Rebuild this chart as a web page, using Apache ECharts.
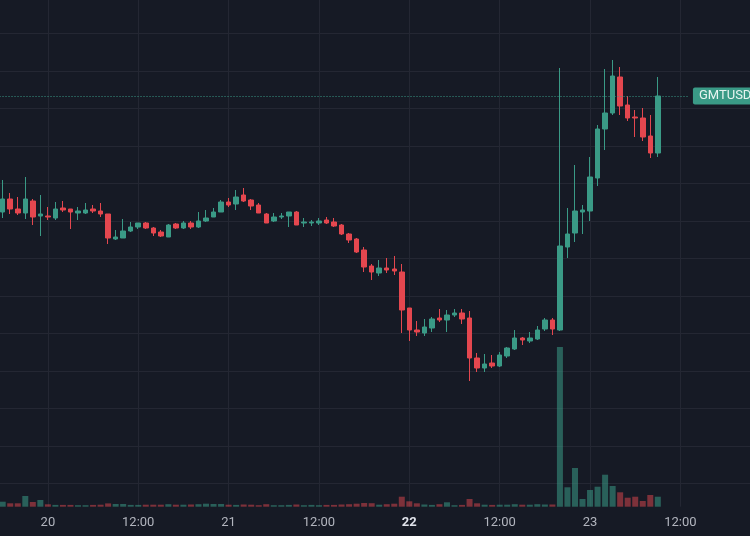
<!DOCTYPE html>
<html><head><meta charset="utf-8">
<script src="https://cdn.jsdelivr.net/npm/echarts@6/dist/echarts.min.js"></script>
<style>html,body{margin:0;padding:0;background:#161a25;}#c{width:750px;height:536px;}</style>
</head><body><div id="c"></div>
<script>
const symbol = 'GMTUSD';
// hour offsets from day 19, 00:00 (1-hour candles, 19th 18:00 .. 23rd 09:00)
const hours = [18,19,20,21,22,23,24,25,26,27,28,29,30,31,32,33,34,35,36,37,38,39,40,41,42,43,44,45,46,47,
  48,49,50,51,52,53,54,55,56,57,58,59,60,61,62,63,64,65,66,67,68,69,70,71,72,73,74,75,76,77,
  78,79,80,81,82,83,84,85,86,87,88,89,90,91,92,93,94,95,96,97,98,99,100,101,102,103,104,105];
const opens = [1.284,1.297,1.287,1.283,1.295,1.280,1.280,1.278,1.288,1.287,
  1.283,1.283,1.287,1.285,1.282,1.257,1.258,1.265,1.269,1.273,
  1.268,1.264,1.259,1.272,1.268,1.273,1.269,1.275,1.279,1.284,
  1.294,1.292,1.301,1.296,1.291,1.282,1.275,1.279,1.280,1.284,
  1.273,1.273,1.273,1.276,1.274,1.271,1.262,1.257,1.246,1.230,
  1.223,1.228,1.227,1.224,1.188,1.166,1.163,1.168,1.178,1.176,
  1.181,1.183,1.178,1.138,1.128,1.133,1.130,1.140,1.147,1.158,
  1.155,1.157,1.167,1.176,1.166,1.249,1.263,1.284,1.285,1.318,
  1.367,1.383,1.419,1.391,1.379,1.378,1.360,1.343];
const closes = [1.297,1.287,1.283,1.297,1.279,1.282,1.279,1.287,1.286,1.284,
  1.285,1.286,1.285,1.282,1.258,1.259,1.265,1.269,1.273,1.268,
  1.263,1.260,1.271,1.268,1.273,1.269,1.275,1.278,1.284,1.294,
  1.291,1.299,1.295,1.290,1.283,1.273,1.279,1.280,1.284,1.271,
  1.274,1.274,1.275,1.273,1.270,1.262,1.256,1.244,1.229,1.224,
  1.228,1.226,1.225,1.186,1.166,1.164,1.169,1.177,1.176,1.181,
  1.183,1.177,1.138,1.128,1.132,1.130,1.141,1.148,1.158,1.156,
  1.158,1.166,1.176,1.167,1.250,1.262,1.285,1.286,1.319,1.367,
  1.383,1.420,1.390,1.378,1.378,1.359,1.343,1.400];
const lows = [1.278,1.282,1.281,1.277,1.271,1.260,1.276,1.276,1.284,1.267,
  1.276,1.282,1.283,1.279,1.252,1.256,1.258,1.264,1.267,1.267,
  1.260,1.259,1.259,1.267,1.267,1.267,1.268,1.274,1.279,1.284,
  1.289,1.286,1.294,1.286,1.283,1.273,1.274,1.277,1.269,1.271,
  1.269,1.270,1.271,1.272,1.269,1.261,1.253,1.243,1.224,1.216,
  1.220,1.223,1.221,1.163,1.155,1.160,1.160,1.164,1.174,1.164,
  1.179,1.172,1.115,1.124,1.124,1.128,1.129,1.138,1.146,1.151,
  1.153,1.156,1.165,1.161,1.165,1.238,1.254,1.262,1.275,1.310,
  1.346,1.381,1.381,1.375,1.359,1.355,1.338,1.339];
const highs = [1.316,1.303,1.299,1.319,1.297,1.301,1.289,1.294,1.295,1.287,
  1.289,1.293,1.291,1.293,1.282,1.266,1.277,1.274,1.273,1.274,
  1.269,1.266,1.272,1.273,1.275,1.275,1.284,1.286,1.288,1.296,
  1.298,1.306,1.308,1.297,1.293,1.283,1.283,1.283,1.284,1.285,
  1.278,1.276,1.278,1.279,1.278,1.272,1.263,1.258,1.249,1.232,
  1.236,1.238,1.240,1.232,1.188,1.175,1.177,1.179,1.187,1.186,
  1.187,1.187,1.185,1.143,1.142,1.141,1.144,1.149,1.166,1.159,
  1.164,1.170,1.178,1.178,1.428,1.288,1.331,1.291,1.339,1.371,
  1.427,1.436,1.429,1.400,1.386,1.388,1.381,1.419];
const volumes = [50,34,34,107,47,67,24,18,18,18,
  15,15,18,20,33,27,27,18,18,20,
  20,20,25,20,20,22,25,30,27,27,
  20,18,22,20,15,25,15,15,18,22,
  15,18,15,18,18,22,25,30,37,35,
  20,25,30,100,54,34,22,18,25,44,
  15,18,77,34,20,18,20,20,25,20,
  20,25,22,22,1597,194,387,77,167,200,
  320,207,144,90,100,57,117,100];
const tickHours = [24,36,48,60,72,84,96,108];
const tickLabels = ['20','12:00','21','12:00','22','12:00','23','12:00'];
const boldTicks = ['22'];

const UP = '#3a9a86', DOWN = '#e4474f';
const UPV = 'rgba(58,154,134,0.55)', DOWNV = 'rgba(228,71,79,0.5)';
const GRID = '#242733';
const FONT = 'Roboto, "Noto Sans", sans-serif';

const candleData = hours.map((h, i) => [h, opens[i], closes[i], lows[i], highs[i]]);
const volData = hours.map((h, i) => ({
  value: [h, volumes[i]],
  itemStyle: { color: closes[i] >= opens[i] ? UPV : DOWNV }
}));
const last = closes[closes.length - 1];
const tagHour = 109; // price-line tag sits at 23rd 13:00 on the time scale

const chart = echarts.init(document.getElementById('c'), null, { renderer: 'canvas' });
chart.setOption({
  backgroundColor: '#161a25',
  animation: false,
  grid: [
    { left: -42.48, right: -20.76, top: -4, bottom: 15, containLabel: false, outerBoundsMode: 'none' },
    { left: -42.48, right: -20.76, top: 0, bottom: 29.3, containLabel: false, outerBoundsMode: 'none' }
  ],
  xAxis: [
    { type: 'value', gridIndex: 0, min: 12, max: 120, interval: 12, show: false },
    { type: 'value', gridIndex: 1, min: 12, max: 120, interval: 12,
      axisLine: { show: false }, axisTick: { show: false },
      splitLine: { show: true, lineStyle: { color: GRID, width: 1 } },
      axisLabel: {
        show: true, color: '#b2b5be', fontSize: 13, fontFamily: FONT, margin: 10,
        formatter: v => {
          const k = tickHours.indexOf(v);
          if (k < 0) return '';
          const t = tickLabels[k];
          return boldTicks.includes(t) ? '{b|' + t + '}' : t;
        },
        rich: { b: { fontWeight: 'bold', color: '#e0e3eb', fontSize: 13, fontFamily: FONT } }
      }
    }
  ],
  yAxis: [
    { type: 'value', gridIndex: 0, min: 0.975, max: 1.5, interval: 0.0375, scale: true,
      axisLine: { show: false }, axisTick: { show: false }, axisLabel: { show: false },
      splitLine: { show: true, showMinLine: false, lineStyle: { color: GRID, width: 1 } } },
    { type: 'value', gridIndex: 1, min: 0, max: 5067, show: false, splitLine: { show: false } }
  ],
  series: [
    { type: 'bar', name: 'Volume', xAxisIndex: 1, yAxisIndex: 1, data: volData, barWidth: 6, z: 1, silent: true },
    { type: 'candlestick', name: symbol, xAxisIndex: 0, yAxisIndex: 0, data: candleData, barWidth: 5, z: 3,
      itemStyle: { color: UP, color0: DOWN, borderColor: UP, borderColor0: DOWN, borderWidth: 1 },
      markLine: {
        silent: true, animation: false, symbol: ['none', 'none'],
        lineStyle: { color: UP, type: [1, 2], width: 1 },
        label: { show: true, position: 'end', distance: 5, formatter: symbol,
          backgroundColor: UP, color: '#e6f4f0', fontSize: 13, fontFamily: FONT,
          lineHeight: 13, padding: [2, 6, 2, 6], borderRadius: 2 },
        emphasis: { disabled: true },
        data: [[{ coord: [12, last] }, { coord: [tagHour, last] }]]
      }
    }
  ]
});
</script></body></html>
